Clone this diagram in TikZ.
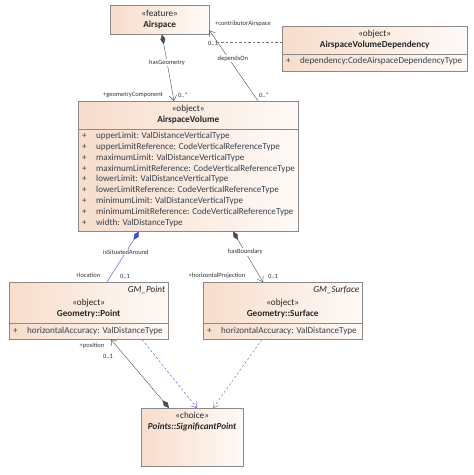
\documentclass[tikz,border=0pt]{standalone}
\usepackage{fontspec}
\setmainfont{Carlito}
\usetikzlibrary{arrows.meta,positioning,shadows}

\definecolor{peach}{RGB}{247,221,204}
\definecolor{peachlight}{RGB}{254,250,247}
\definecolor{boxline}{RGB}{138,138,138}
\definecolor{attrtext}{RGB}{55,65,75}
\definecolor{linkblue}{RGB}{70,70,225}

\newcommand{\attr}[1]{\makebox[14pt][l]{+}#1}

\begin{document}
\begin{tikzpicture}[
	x = 1pt, y = -1pt,
	> = {Straight Barb[length=5pt,width=7pt]},
	font = \fontsize{9.2}{11}\selectfont,
	cls/.style = {draw=boxline, left color=peach, right color=peachlight, anchor=north west, inner sep=0pt,
		drop shadow={shadow xshift=1pt, shadow yshift=-1pt, fill=black!18}},
	title/.style = {anchor=north, align=center, inner sep=0pt, text=black!85},
	attrs/.style = {anchor=north west, align=left, inner sep=0pt, text=attrtext,
		font=\fontsize{9.1}{10.8}\selectfont},
	sep/.style = {draw=boxline},
	role/.style = {font=\fontsize{6.5}{7.5}\selectfont, inner sep=1pt, text=black!80},
	linklabel/.style = {role, fill=white},
	assoc/.style = {draw=black!70},
	bluelink/.style = {draw=linkblue},
	comp/.style = {{Diamond[length=10pt,width=5pt]}-{>}},
	realize/.style = {dashed, dash pattern=on 2.5pt off 2pt}
	]
	\useasboundingbox (0,0) rectangle (474,475);

	% classes
	\node[cls, minimum width=99, minimum height=29] (airspace) at (110,5) {};
	\node[title] (airspace-t) at ([yshift=-5pt]airspace.north) {«feature»\\\textbf{Airspace}};

	\node[cls, minimum width=185, minimum height=45] (avd) at (282,26) {};
	\node[title] (avd-t) at ([yshift=-4.2pt]avd.north) {«object»\\\textbf{AirspaceVolumeDependency}};
	\draw[sep] ([yshift=-28pt]avd.north west) -- ([yshift=-28pt]avd.north east);
	\node[attrs] (avd-a) at ([shift={(4pt,-31.2pt)}]avd.north west) {\attr{dependency:CodeAirspaceDependencyType}};

	\node[cls, minimum width=220, minimum height=130] (volume) at (78,101) {};
	\node[title] (volume-t) at ([yshift=-4.2pt]volume.north) {«object»\\\textbf{AirspaceVolume}};
	\draw[sep] ([yshift=-28pt]volume.north west) -- ([yshift=-28pt]volume.north east);
	\node[attrs] (volume-a) at ([shift={(4pt,-31.2pt)}]volume.north west) {%
		\attr{upperLimit: ValDistanceVerticalType}\\
		\attr{upperLimitReference: CodeVerticalReferenceType}\\
		\attr{maximumLimit: ValDistanceVerticalType}\\
		\attr{maximumLimitReference: CodeVerticalReferenceType}\\
		\attr{lowerLimit: ValDistanceVerticalType}\\
		\attr{lowerLimitReference: CodeVerticalReferenceType}\\
		\attr{minimumLimit: ValDistanceVerticalType}\\
		\attr{minimumLimitReference: CodeVerticalReferenceType}\\
		\attr{width: ValDistanceType}};

	\node[cls, minimum width=159, minimum height=57] (point) at (9,282) {};
	\node[title, anchor=north east] (point-g) at ([shift={(-3pt,-4.2pt)}]point.north east) {\textit{GM\_Point}};
	\node[title] (point-t) at ([yshift=-17.2pt]point.north) {«object»\\\textbf{Geometry::Point}};
	\draw[sep] ([yshift=-41pt]point.north west) -- ([yshift=-41pt]point.north east);
	\node[attrs] (point-a) at ([shift={(4pt,-45.2pt)}]point.north west) {\attr{horizontalAccuracy: ValDistanceType}};

	\node[cls, minimum width=159, minimum height=57] (surface) at (203,282) {};
	\node[title, anchor=north east] (surface-g) at ([shift={(-3pt,-4.2pt)}]surface.north east) {\textit{GM\_Surface}};
	\node[title] (surface-t) at ([yshift=-17.2pt]surface.north) {«object»\\\textbf{Geometry::Surface}};
	\draw[sep] ([yshift=-41pt]surface.north west) -- ([yshift=-41pt]surface.north east);
	\node[attrs] (surface-a) at ([shift={(4pt,-45.2pt)}]surface.north west) {\attr{horizontalAccuracy: ValDistanceType}};

	\node[cls, minimum width=102, minimum height=58] (sigpoint) at (141,408) {};
	\node[title] (sigpoint-t) at ([yshift=-4.2pt]sigpoint.north) {«choice»\\\textbf{\textit{Points::SignificantPoint}}};

	% associations
	\draw[assoc, comp] ([xshift=52pt]airspace.south west) --
		node[linklabel, pos=0.42] (has-geometry) {hasGeometry} ([xshift=96pt]volume.north west);
	\draw[assoc, ->] ([xshift=180pt]volume.north west) --
		node[linklabel, pos=0.6, xshift=4pt] (depends-on) {dependsOn}
		coordinate[pos=0.83] (dep-mid) ([yshift=4pt]airspace.south east);
	\draw[assoc, draw=black!55, realize] (avd.west |- dep-mid) -- (dep-mid);
	\draw[bluelink, comp, {Diamond[length=10pt,width=5pt,fill=linkblue]}-] ([xshift=61pt]volume.south west) --
		node[linklabel, pos=0.41] (situated) {isSituatedAround} ([xshift=98pt]point.north west);
	\draw[assoc, comp] ([xshift=155pt]volume.south west) --
		node[linklabel, pos=0.41] (boundary) {hasBoundary} ([xshift=60pt]surface.north west);
	\draw[assoc, comp] ([xshift=28pt]sigpoint.north west) -- ([xshift=102pt]point.south west);
	\draw[bluelink, realize, ->] ([xshift=133pt]point.south west) -- ([xshift=56pt]sigpoint.north west);
	\draw[assoc, draw=black!55, realize, ->] ([xshift=59pt]surface.south west) -- ([xshift=72pt]sigpoint.north west);

	% role names
	\node[role] (contributor) at (243,24) {+contributorAirspace};
	\node[role] (contributor-m) at (213,43) {0..1};
	\node[role] (component) at (133,95) {+geometryComponent};
	\node[role] (component-m) at (183,95) {0..*};
	\node[role] (volume-m) at (264,95) {0..*};
	\node[role] (location) at (88,275) {+location};
	\node[role] (location-m) at (125,276) {0..1};
	\node[role] (projection) at (217,276) {+horizontalProjection};
	\node[role] (projection-m) at (273,276) {0..1};
	\node[role] (position) at (92,346) {+position};
	\node[role] (position-m) at (108,356) {0..1};
\end{tikzpicture}
\end{document}
